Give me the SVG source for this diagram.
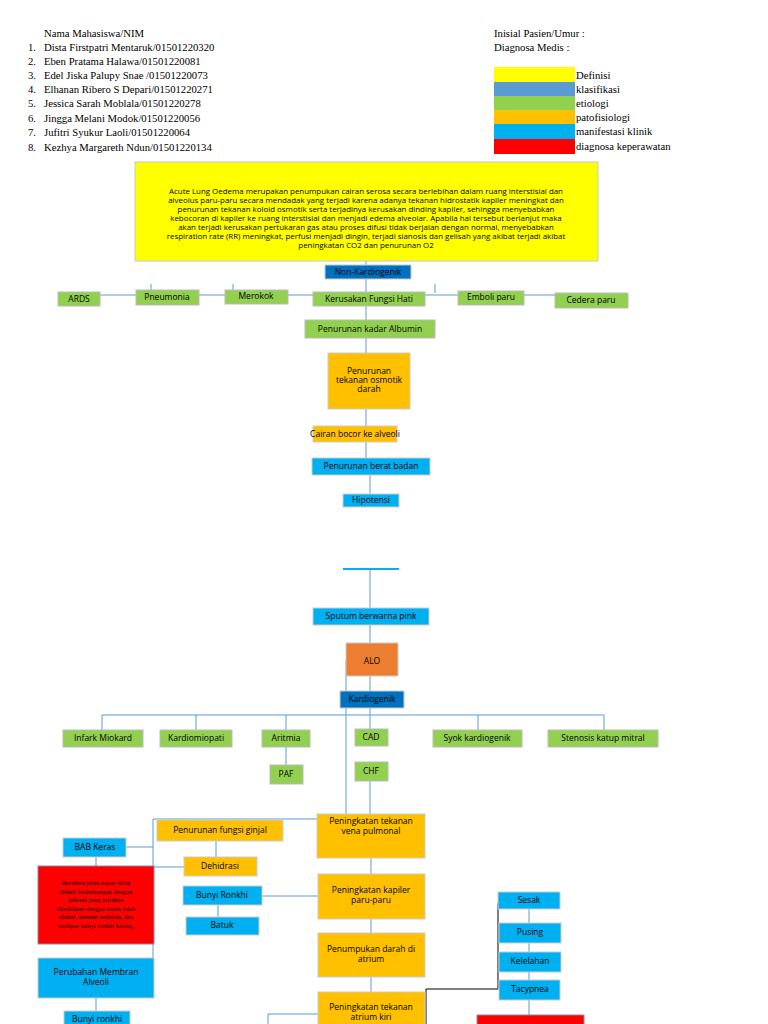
<svg xmlns="http://www.w3.org/2000/svg" width="768" height="1024" viewBox="0 0 768 1024">
<style>
.h{font-family:"Liberation Serif",serif;font-size:10.7px;fill:#000}
.t{font-family:"Open Sans","Liberation Sans",sans-serif;font-size:8.5px;fill:#000;text-anchor:middle}
.d{font-size:7.9px}
.y{fill:#FFFF00;stroke:#c8c8c8}
.g{fill:#92D050;stroke:#bbb}
.o{fill:#FFC000;stroke:#ccc}
.c{fill:#00B0F0;stroke:#ccc}
.b{fill:#0070C0;stroke:#ccc}
.r{fill:#FF0000;stroke:#8888aa}
.l{stroke:#5B9BD5;stroke-width:1;fill:none}
</style>
<rect width="768" height="1024" fill="#fff"/>
<g id="header">
<text class="h" x="44" y="37">Nama Mahasiswa/NIM</text>
<text class="h" x="28" y="51">1.</text><text class="h" x="44" y="51">Dista Firstpatri Mentaruk/01501220320</text>
<text class="h" x="28" y="65">2.</text><text class="h" x="44" y="65">Eben Pratama Halawa/01501220081</text>
<text class="h" x="28" y="79">3.</text><text class="h" x="44" y="79">Edel Jiska Palupy Snae /01501220073</text>
<text class="h" x="28" y="93">4.</text><text class="h" x="44" y="93">Elhanan Ribero S Depari/01501220271</text>
<text class="h" x="28" y="107">5.</text><text class="h" x="44" y="107">Jessica Sarah Moblala/01501220278</text>
<text class="h" x="28" y="122">6.</text><text class="h" x="44" y="122">Jingga Melani Modok/01501220056</text>
<text class="h" x="28" y="136">7.</text><text class="h" x="44" y="136">Jufitri Syukur Laoli/01501220064</text>
<text class="h" x="28" y="151">8.</text><text class="h" x="44" y="151">Kezhya Margareth Ndun/01501220134</text>
<text class="h" x="494" y="37">Inisial Pasien/Umur :</text>
<text class="h" x="494" y="51">Diagnosa Medis :</text>
</g>
<g id="legend">
<rect x="494" y="67" width="81" height="15" fill="#FFFF00"/><text class="h" x="576" y="79">Definisi</text>
<rect x="494" y="82" width="81" height="14" fill="#5B9BD5"/><text class="h" x="576" y="93">klasifikasi</text>
<rect x="494" y="96" width="81" height="14" fill="#92D050"/><text class="h" x="576" y="107">etiologi</text>
<rect x="494" y="110" width="81" height="14" fill="#FFC000"/><text class="h" x="576" y="121">patofisiologi</text>
<rect x="494" y="124" width="81" height="15" fill="#00B0F0"/><text class="h" x="576" y="135">manifestasi klinik</text>
<rect x="494" y="139" width="81" height="15" fill="#FF0000"/><text class="h" x="576" y="150">diagnosa keperawatan</text>
</g>
<g id="connectors">
<path class="l" d="M366 261V320M60 295H600M151 284V293M233 284V293M435 284V293M366 338V353M366 409V426M366 442V458M370 475V494M370 569V608M370 625V643M370 676V691M370 708V715M102 715H604M102 715V730M196 715V730M286 715V730M370 715V729M478 715V730M604 715V730M286 747V765M370 781V814M346 660V819H153V958M126 847H153M153 867H184M96 857V866M216 841V857M262 896H318M218 905V917M371 858V874M371 919V933M371 977V992M318 1014H268V1024M96 998V1011M529 909V923M529 943V952M529 972V980M529 1000V1015"/>
<path d="M343 569H399" stroke="#00B0F0" stroke-width="2"/>
<path d="M426 1024V989H498V903" stroke="#000" fill="none"/>
</g>
<g id="definisi"><rect class="y" x="135" y="162" width="463" height="99"/>
<text class="t d" x="366" y="194">Acute Lung Oedema merupakan penumpukan cairan serosa secara berlebihan dalam ruang interstisial dan</text>
<text class="t d" x="366" y="203">alveolus paru-paru secara mendadak yang terjadi karena adanya tekanan hidrostatik kapiler meningkat dan</text>
<text class="t d" x="366" y="212">penurunan tekanan koloid osmotik serta terjadinya kerusakan dinding kapiler, sehingga menyebabkan</text>
<text class="t d" x="366" y="221">kebocoran di kapiler ke ruang interstisial dan menjadi edema alveolar. Apabila hal tersebut berlanjut maka</text>
<text class="t d" x="366" y="230">akan terjadi kerusakan pertukaran gas atau proses difusi tidak berjalan dengan normal, menyebabkan</text>
<text class="t d" x="366" y="239">respiration rate (RR) meningkat, perfusi menjadi dingin, terjadi sianosis dan gelisah yang akibat terjadi akibat</text>
<text class="t d" x="366" y="248">peningkatan CO2 dan penurunan O2</text></g>
<g id="nonkardio"><rect class="b" x="325" y="265" width="86" height="14"/><text class="t" x="368" y="275">Non-Kardiogenik</text></g>
<g id="ards"><rect class="g" x="58" y="292" width="42" height="14"/><text class="t" x="79" y="302">ARDS</text></g>
<g id="pneumonia"><rect class="g" x="136" y="290" width="63" height="15"/><text class="t" x="167" y="300">Pneumonia</text></g>
<g id="merokok"><rect class="g" x="225" y="290" width="63" height="14"/><text class="t" x="256" y="299">Merokok</text></g>
<g id="hati"><rect class="g" x="313" y="292" width="112" height="14" stroke="#4472C4"/><text class="t" x="369" y="302">Kerusakan Fungsi Hati</text></g>
<g id="emboli"><rect class="g" x="458" y="291" width="66" height="14"/><text class="t" x="491" y="300">Emboli paru</text></g>
<g id="cedera"><rect class="g" x="555" y="293" width="73" height="15"/><text class="t" x="591" y="303">Cedera paru</text></g>
<g id="albumin"><rect class="g" x="305" y="320" width="130" height="18"/><text class="t" x="370" y="332">Penurunan kadar Albumin</text></g>
<g id="osmotik"><rect class="o" x="328" y="353" width="82" height="56"/><text class="t" x="369" y="374" font-size="7.5">Penurunan</text><text class="t" x="369" y="383" font-size="7.5">tekanan osmotik</text><text class="t" x="369" y="392" font-size="7.5">darah</text></g>
<g id="cairan"><rect class="o" x="313" y="426" width="84" height="16"/><text class="t" x="355" y="437" font-size="7.8">Cairan bocor ke alveoli</text></g>
<g id="bb"><rect class="c" x="312" y="458" width="118" height="17"/><text class="t" x="371" y="469">Penurunan berat badan</text></g>
<g id="hipotensi"><rect class="c" x="343" y="494" width="56" height="13"/><text class="t" x="371" y="503">Hipotensi</text></g>
<g id="sputum"><rect class="c" x="313" y="608" width="116" height="17"/><text class="t" x="371" y="619">Sputum berwarna pink</text></g>
<g id="alo"><rect x="346" y="643" width="52" height="33" fill="#ED7D31" stroke="#ccc"/><text class="t" x="372" y="664" font-size="12">ALO</text></g>
<g id="kardio"><rect class="b" x="340" y="691" width="64" height="17"/><text class="t" x="372" y="702">Kardiogenik</text></g>
<g id="infark"><rect class="g" x="63" y="730" width="80" height="17"/><text class="t" x="103" y="741">Infark Miokard</text></g>
<g id="kardiomio"><rect class="g" x="160" y="730" width="72" height="17"/><text class="t" x="196" y="741">Kardiomiopati</text></g>
<g id="aritmia"><rect class="g" x="262" y="730" width="48" height="17"/><text class="t" x="286" y="741">Aritmia</text></g>
<g id="cad"><rect class="g" x="355" y="729" width="33" height="17"/><text class="t" x="371" y="740">CAD</text></g>
<g id="syok"><rect class="g" x="433" y="730" width="89" height="17"/><text class="t" x="477" y="741">Syok kardiogenik</text></g>
<g id="stenosis"><rect class="g" x="548" y="730" width="110" height="17"/><text class="t" x="603" y="741">Stenosis katup mitral</text></g>
<g id="paf"><rect class="g" x="270" y="765" width="33" height="19"/><text class="t" x="286" y="777">PAF</text></g>
<g id="chf"><rect class="g" x="355" y="762" width="33" height="19"/><text class="t" x="371" y="774">CHF</text></g>
<g id="vena"><rect class="o" x="317" y="814" width="108" height="44"/><text class="t" x="371" y="824">Peningkatan tekanan</text><text class="t" x="371" y="834">vena pulmonal</text></g>
<g id="ginjal"><rect class="o" x="157" y="820" width="126" height="21"/><text class="t" x="220" y="833">Penurunan fungsi ginjal</text></g>
<g id="bab"><rect class="c" x="63" y="838" width="63" height="19"/><text class="t" x="95" y="850">BAB Keras</text></g>
<g id="dehidrasi"><rect class="o" x="184" y="857" width="73" height="19"/><text class="t" x="220" y="869">Dehidrasi</text></g>
<g id="dx1"><rect class="r" x="38" y="866" width="116" height="78"/>
<g font-family="Liberation Serif,serif" font-size="6.5" fill="#000" text-anchor="middle"><text x="96" y="885">Bersihan jalan napas tidak</text><text x="96" y="893.5">efektif berhubungan dengan</text><text x="96" y="902">sekresi yang tertahan</text><text x="96" y="910.5">dibuktikan dengan batuk tidak</text><text x="96" y="919">efektif, sputum berlebih, dan</text><text x="96" y="927.5">terdapat bunyi ronkhi kering.</text></g></g>
<g id="ronkhi1"><rect class="c" x="183" y="886" width="79" height="19"/><text class="t" x="222" y="898">Bunyi Ronkhi</text></g>
<g id="batuk"><rect class="c" x="186" y="917" width="73" height="18"/><text class="t" x="222" y="928">Batuk</text></g>
<g id="kapiler"><rect class="o" x="318" y="874" width="107" height="45"/><text class="t" x="371" y="893">Peningkatan kapiler</text><text class="t" x="371" y="903">paru-paru</text></g>
<g id="penumpukan"><rect class="o" x="318" y="933" width="107" height="44"/><text class="t" x="371" y="952">Penumpukan darah di</text><text class="t" x="371" y="962">atrium</text></g>
<g id="atrium"><rect class="o" x="318" y="992" width="107" height="40"/><text class="t" x="371" y="1010">Peningkatan tekanan</text><text class="t" x="371" y="1020">atrium kiri</text></g>
<g id="membran"><rect class="c" x="38" y="958" width="116" height="40"/><text class="t" x="96" y="975">Perubahan Membran</text><text class="t" x="96" y="985">Alveoli</text></g>
<g id="ronkhi2"><rect class="c" x="64" y="1011" width="66" height="20"/><text class="t" x="97" y="1022">Bunyi ronkhi</text></g>
<g id="sesak"><rect class="c" x="498" y="892" width="62" height="17"/><text class="t" x="529" y="903">Sesak</text></g>
<g id="pusing"><rect class="c" x="499" y="923" width="62" height="20"/><text class="t" x="530" y="935">Pusing</text></g>
<g id="kelelahan"><rect class="c" x="499" y="952" width="62" height="20"/><text class="t" x="530" y="964">Kelelahan</text></g>
<g id="tacypnea"><rect class="c" x="499" y="980" width="61" height="20"/><text class="t" x="530" y="992">Tacypnea</text></g>
<g id="dx2"><rect class="r" x="477" y="1015" width="107" height="20"/></g>
</svg>
